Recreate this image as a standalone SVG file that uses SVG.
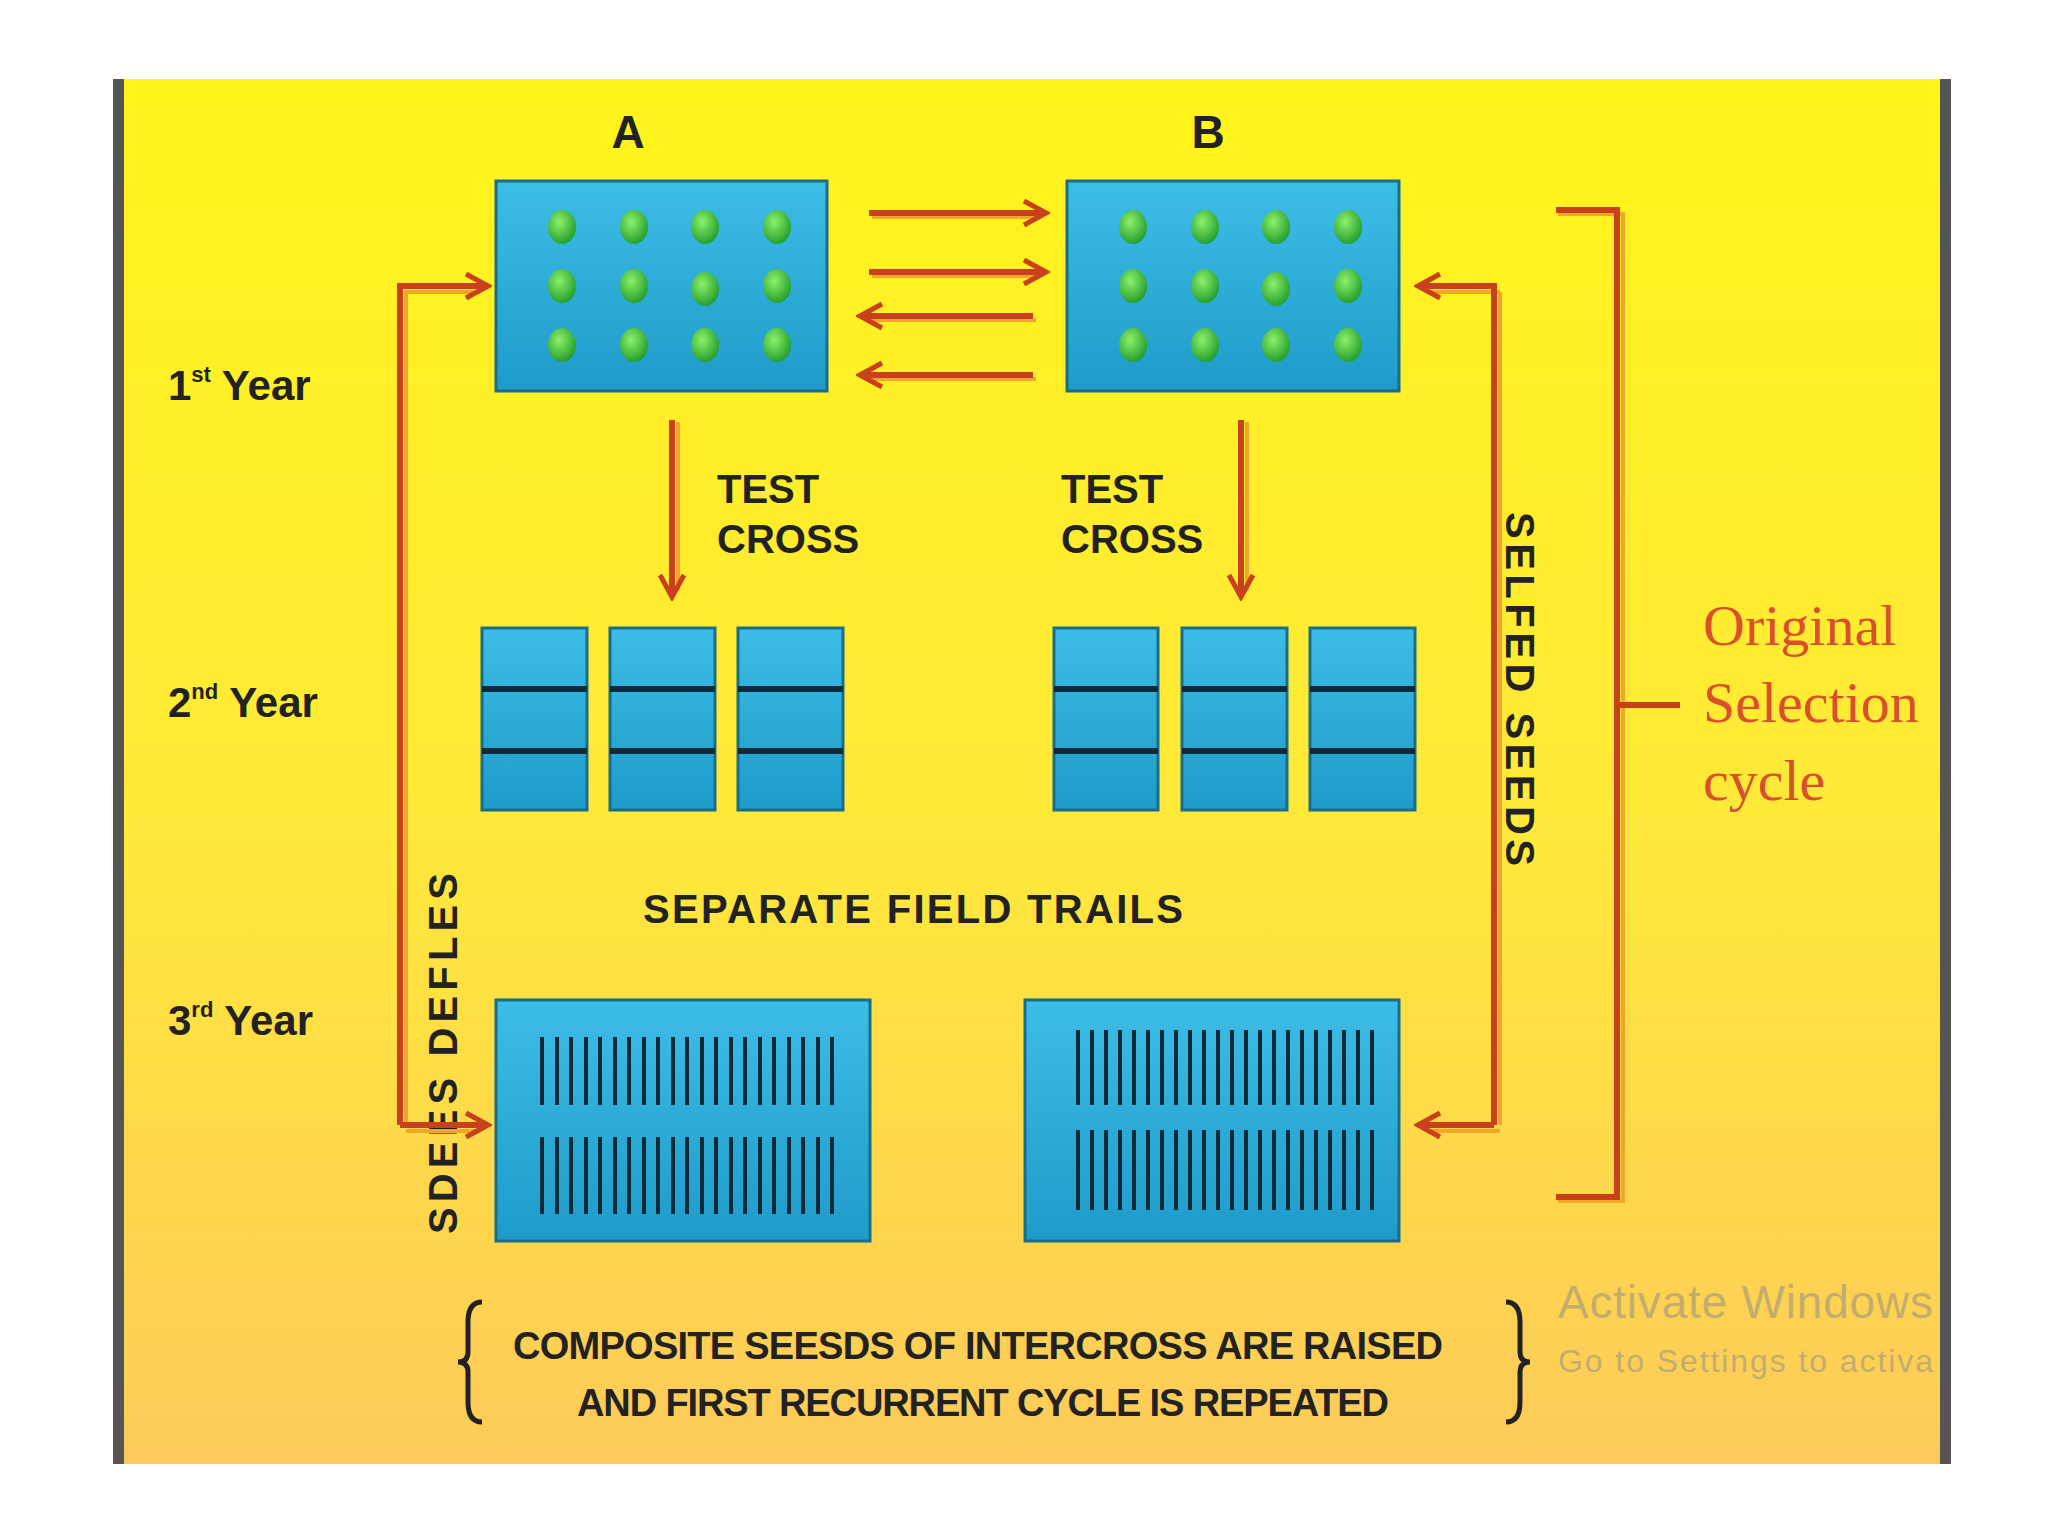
<svg xmlns="http://www.w3.org/2000/svg" width="2048" height="1536" viewBox="0 0 2048 1536">
<defs>
<linearGradient id="bg" x1="0" y1="0" x2="0" y2="1"><stop offset="0" stop-color="#fff41a"/><stop offset="0.55" stop-color="#ffe83a"/><stop offset="1" stop-color="#fdca5a"/></linearGradient>
<linearGradient id="box" x1="0" y1="0" x2="0" y2="1"><stop offset="0" stop-color="#3cbde6"/><stop offset="1" stop-color="#1f9bc9"/></linearGradient>
<radialGradient id="dot" cx="0.4" cy="0.35" r="0.7"><stop offset="0" stop-color="#8ef06a"/><stop offset="1" stop-color="#1d9a2a"/></radialGradient>
<marker id="ahb" viewBox="0 0 30 30" refX="26" refY="15" markerWidth="30" markerHeight="30" markerUnits="userSpaceOnUse" orient="auto"><polyline points="4,3 26,15 4,27" fill="none" stroke="#c8401c" stroke-width="5"/></marker>
</defs>
<style>
.b{fill:url(#box);stroke:#1a6d8a;stroke-width:3}
.ln{fill:none;stroke:#c8401c;stroke-width:6}
.sh{fill:none;stroke:#f2a52a;stroke-width:4}
.t{font-family:"Liberation Sans",Arial,sans-serif;font-weight:bold;fill:#222}
.bar{stroke:#0d2a3a;stroke-width:4}
.hl{stroke:#0d2a3a;stroke-width:6}
</style>
<rect width="2048" height="1536" fill="#fff"/>
<rect x="113" y="79" width="1838" height="1385" fill="url(#bg)"/>
<rect x="113" y="79" width="11" height="1385" fill="#555"/>
<rect x="1940" y="79" width="11" height="1385" fill="#555"/>

<g id="labels">
<text class="t" x="628" y="148" font-size="46" text-anchor="middle">A</text>
<text class="t" x="1208" y="148" font-size="46" text-anchor="middle">B</text>
<text class="t" x="168" y="400" font-size="42">1<tspan font-size="22" dy="-18">st</tspan><tspan dy="18"> Year</tspan></text>
<text class="t" x="168" y="717" font-size="42">2<tspan font-size="22" dy="-18">nd</tspan><tspan dy="18"> Year</tspan></text>
<text class="t" x="168" y="1035" font-size="42">3<tspan font-size="22" dy="-18">rd</tspan><tspan dy="18"> Year</tspan></text>
<text class="t" x="717" y="503" font-size="40">TEST</text>
<text class="t" x="717" y="553" font-size="40">CROSS</text>
<text class="t" x="1061" y="503" font-size="40">TEST</text>
<text class="t" x="1061" y="553" font-size="40">CROSS</text>
<text class="t" x="643" y="923" font-size="40" textLength="540">SEPARATE  FIELD  TRAILS</text>
<text class="t" font-size="40" transform="translate(457,1234) rotate(-90)" textLength="361">SDEES DEFLES</text>
<text class="t" font-size="40" transform="translate(1506,512) rotate(90)" textLength="354">SELFED SEEDS</text>
<text x="1703" y="645" font-family="Liberation Serif,serif" font-size="58" fill="#d9502a">Original</text>
<text x="1703" y="722" font-family="Liberation Serif,serif" font-size="58" fill="#d9502a">Selection</text>
<text x="1703" y="800" font-family="Liberation Serif,serif" font-size="58" fill="#d9502a">cycle</text>
<text class="t" x="978" y="1359" font-size="38" text-anchor="middle" textLength="930">COMPOSITE SEESDS OF INTERCROSS  ARE RAISED</text>
<text class="t" x="983" y="1416" font-size="38" text-anchor="middle" textLength="812">AND FIRST RECURRENT CYCLE IS REPEATED</text>
<path d="M482,1302 q-14,0 -14,20 v30 q0,10 -10,10 q10,0 10,10 v30 q0,20 14,20" fill="none" stroke="#222" stroke-width="5"/>
<path d="M1506,1302 q14,0 14,20 v30 q0,10 10,10 q-10,0 -10,10 v30 q0,20 -14,20" fill="none" stroke="#222" stroke-width="5"/>
<g font-family="Liberation Sans,Arial,sans-serif" fill="#8a8a8a" opacity="0.5">
<text x="1558" y="1318" font-size="46" textLength="375">Activate Windows</text>
<text x="1558" y="1372" font-size="32" textLength="375">Go to Settings to activa</text>
</g>
</g>

<g id="boxA">
<rect class="b" x="496" y="181" width="331" height="210"/>
<g fill="url(#dot)">
<ellipse cx="562" cy="227" rx="14" ry="17"/><ellipse cx="634" cy="227" rx="14" ry="17"/><ellipse cx="705" cy="227" rx="14" ry="17"/><ellipse cx="777" cy="227" rx="14" ry="17"/>
<ellipse cx="562" cy="286" rx="14" ry="17"/><ellipse cx="634" cy="286" rx="14" ry="17"/><ellipse cx="705" cy="289" rx="14" ry="17"/><ellipse cx="777" cy="286" rx="14" ry="17"/>
<ellipse cx="562" cy="345" rx="14" ry="17"/><ellipse cx="634" cy="345" rx="14" ry="17"/><ellipse cx="705" cy="345" rx="14" ry="17"/><ellipse cx="777" cy="345" rx="14" ry="17"/>
</g>
</g>
<g id="boxB">
<rect class="b" x="1067" y="181" width="332" height="210"/>
<g fill="url(#dot)">
<ellipse cx="1133" cy="227" rx="14" ry="17"/><ellipse cx="1205" cy="227" rx="14" ry="17"/><ellipse cx="1276" cy="227" rx="14" ry="17"/><ellipse cx="1348" cy="227" rx="14" ry="17"/>
<ellipse cx="1133" cy="286" rx="14" ry="17"/><ellipse cx="1205" cy="286" rx="14" ry="17"/><ellipse cx="1276" cy="289" rx="14" ry="17"/><ellipse cx="1348" cy="286" rx="14" ry="17"/>
<ellipse cx="1133" cy="345" rx="14" ry="17"/><ellipse cx="1205" cy="345" rx="14" ry="17"/><ellipse cx="1276" cy="345" rx="14" ry="17"/><ellipse cx="1348" cy="345" rx="14" ry="17"/>
</g>
</g>

<g id="year2A">
<rect class="b" x="482" y="628" width="105" height="182"/><rect class="b" x="610" y="628" width="105" height="182"/><rect class="b" x="738" y="628" width="105" height="182"/>
<line class="hl" x1="482" y1="689" x2="587" y2="689"/><line class="hl" x1="610" y1="689" x2="715" y2="689"/><line class="hl" x1="738" y1="689" x2="843" y2="689"/>
<line class="hl" x1="482" y1="751" x2="587" y2="751"/><line class="hl" x1="610" y1="751" x2="715" y2="751"/><line class="hl" x1="738" y1="751" x2="843" y2="751"/>
</g>
<g id="year2B">
<rect class="b" x="1054" y="628" width="104" height="182"/><rect class="b" x="1182" y="628" width="105" height="182"/><rect class="b" x="1310" y="628" width="105" height="182"/>
<line class="hl" x1="1054" y1="689" x2="1158" y2="689"/><line class="hl" x1="1182" y1="689" x2="1287" y2="689"/><line class="hl" x1="1310" y1="689" x2="1415" y2="689"/>
<line class="hl" x1="1054" y1="751" x2="1158" y2="751"/><line class="hl" x1="1182" y1="751" x2="1287" y2="751"/><line class="hl" x1="1310" y1="751" x2="1415" y2="751"/>
</g>

<g id="year3A">
<rect class="b" x="496" y="1000" width="374" height="241"/>
<path class="bar" d="M542,1037v68M557,1037v68M571,1037v68M586,1037v68M600,1037v68M615,1037v68M629,1037v68M644,1037v68M658,1037v68M673,1037v68M687,1037v68M702,1037v68M716,1037v68M731,1037v68M745,1037v68M760,1037v68M774,1037v68M789,1037v68M803,1037v68M818,1037v68M832,1037v68
M542,1137v77M557,1137v77M571,1137v77M586,1137v77M600,1137v77M615,1137v77M629,1137v77M644,1137v77M658,1137v77M673,1137v77M687,1137v77M702,1137v77M716,1137v77M731,1137v77M745,1137v77M760,1137v77M774,1137v77M789,1137v77M803,1137v77M818,1137v77M832,1137v77"/>
</g>
<g id="year3B">
<rect class="b" x="1025" y="1000" width="374" height="241"/>
<path class="bar" d="M1078,1030v75M1092,1030v75M1106,1030v75M1120,1030v75M1134,1030v75M1148,1030v75M1162,1030v75M1176,1030v75M1190,1030v75M1204,1030v75M1218,1030v75M1232,1030v75M1246,1030v75M1260,1030v75M1274,1030v75M1288,1030v75M1302,1030v75M1316,1030v75M1330,1030v75M1344,1030v75M1358,1030v75M1372,1030v75
M1078,1130v80M1092,1130v80M1106,1130v80M1120,1130v80M1134,1130v80M1148,1130v80M1162,1130v80M1176,1130v80M1190,1130v80M1204,1130v80M1218,1130v80M1232,1130v80M1246,1130v80M1260,1130v80M1274,1130v80M1288,1130v80M1302,1130v80M1316,1130v80M1330,1130v80M1344,1130v80M1358,1130v80M1372,1130v80"/>
</g>

<g id="connectors">
<path class="sh" d="M872,217H1040M872,276H1040M1036,320H866M1036,379H866"/>
<line class="ln" x1="869" y1="213" x2="1046" y2="213" marker-end="url(#ahb)"/>
<line class="ln" x1="869" y1="272" x2="1046" y2="272" marker-end="url(#ahb)"/>
<line class="ln" x1="1033" y1="316" x2="860" y2="316" marker-end="url(#ahb)"/>
<line class="ln" x1="1033" y1="375" x2="860" y2="375" marker-end="url(#ahb)"/>
<path class="sh" d="M678,422V590M1247,422V590"/>
<line class="ln" x1="672" y1="420" x2="672" y2="597" marker-end="url(#ahb)"/>
<line class="ln" x1="1241" y1="420" x2="1241" y2="597" marker-end="url(#ahb)"/>
<path class="sh" d="M406,1125V292H480M406,1131H480"/>
<path class="ln" d="M400,1125V286H488" marker-end="url(#ahb)"/>
<path class="ln" d="M400,1125H488" marker-end="url(#ahb)"/>
<path class="sh" d="M1500,1125V292M1500,292H1426M1500,1131H1426"/>
<path class="ln" d="M1494,1125V286H1418" marker-end="url(#ahb)"/>
<path class="ln" d="M1494,1125H1418" marker-end="url(#ahb)"/>
<path class="sh" d="M1558,214H1623V1201H1558"/>
<path class="ln" d="M1556,210H1617V1197H1556M1617,705H1680"/>
</g>
</svg>
